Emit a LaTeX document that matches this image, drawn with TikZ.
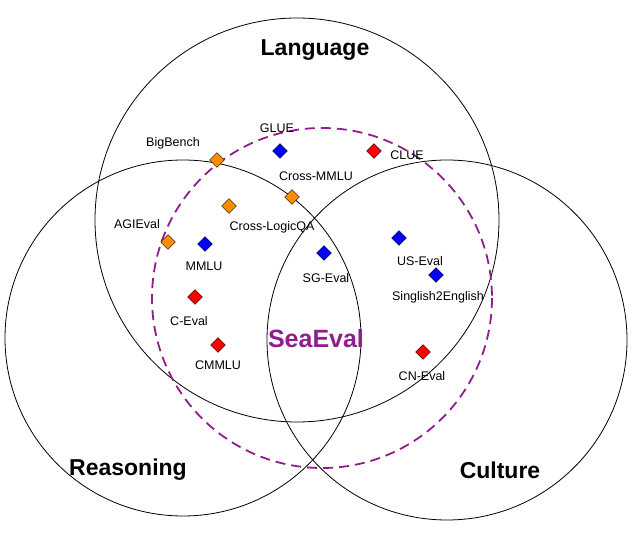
\documentclass[tikz,border=0pt]{standalone}
\usepackage{fontspec}
\setmainfont{Liberation Sans}
\begin{document}
\begin{tikzpicture}[x=1pt,y=-1pt,
  big/.style={font=\bfseries\fontsize{23}{27}\selectfont},
  lab/.style={font=\fontsize{12.5}{14}\selectfont},
  dm/.style={draw=black,line width=0.4pt,minimum size=10.5pt,inner sep=0pt,rotate=45,shape=rectangle},
  o/.style={dm,fill=orange!90!yellow},
  b/.style={dm,fill=blue},
  r/.style={dm,fill=red}]
\useasboundingbox (0,0) rectangle (633,548);
\draw[line width=0.8pt] (297,220) circle (202);
\draw[line width=0.8pt] (183,338) circle (178);
\draw[line width=0.8pt] (447,340) circle (180);
\draw[line width=1.8pt,dash pattern=on 10pt off 6pt,color={rgb,255:red,142;green,30;blue,142}] (322,298) circle (170);
\node[big] (tl) at (315,50) {Language};
\node[big] (tr) at (128,470) {Reasoning};
\node[big] (tc) at (500,470) {Culture};
\node[font=\bfseries\fontsize{25}{29}\selectfont,text={rgb,255:red,142;green,30;blue,142}] (se) at (316,339) {SeaEval};
\node[o] (d1) at (217,160) {}; \node[lab] (l1) at (173,143) {BigBench};
\node[b] (d2) at (280,151) {}; \node[lab] (l2) at (277,128) {GLUE};
\node[r] (d3) at (374,151) {}; \node[lab] (l3) at (407,155) {CLUE};
\node[o] (d4) at (292,197) {}; \node[lab] (l4) at (316,176) {Cross-MMLU};
\node[o] (d5) at (229,206) {}; \node[lab] (l5) at (272,227) {Cross-LogicQA};
\node[o] (d6) at (168,242) {}; \node[lab] (l6) at (137,224) {AGIEval};
\node[b] (d7) at (205,244) {}; \node[lab] (l7) at (204,266) {MMLU};
\node[b] (d8) at (324,253) {}; \node[lab] (l8) at (326,278) {SG-Eval};
\node[b] (d9) at (399,238) {}; \node[lab] (l9) at (420,261) {US-Eval};
\node[b] (d10) at (436,275) {}; \node[lab] (l10) at (438,297) {Singlish2English};
\node[r] (d11) at (195,297) {}; \node[lab] (l11) at (189,321) {C-Eval};
\node[r] (d12) at (218,345) {}; \node[lab] (l12) at (218,365) {CMMLU};
\node[r] (d13) at (423,352) {}; \node[lab] (l13) at (422,376) {CN-Eval};
\end{tikzpicture}
\end{document}
